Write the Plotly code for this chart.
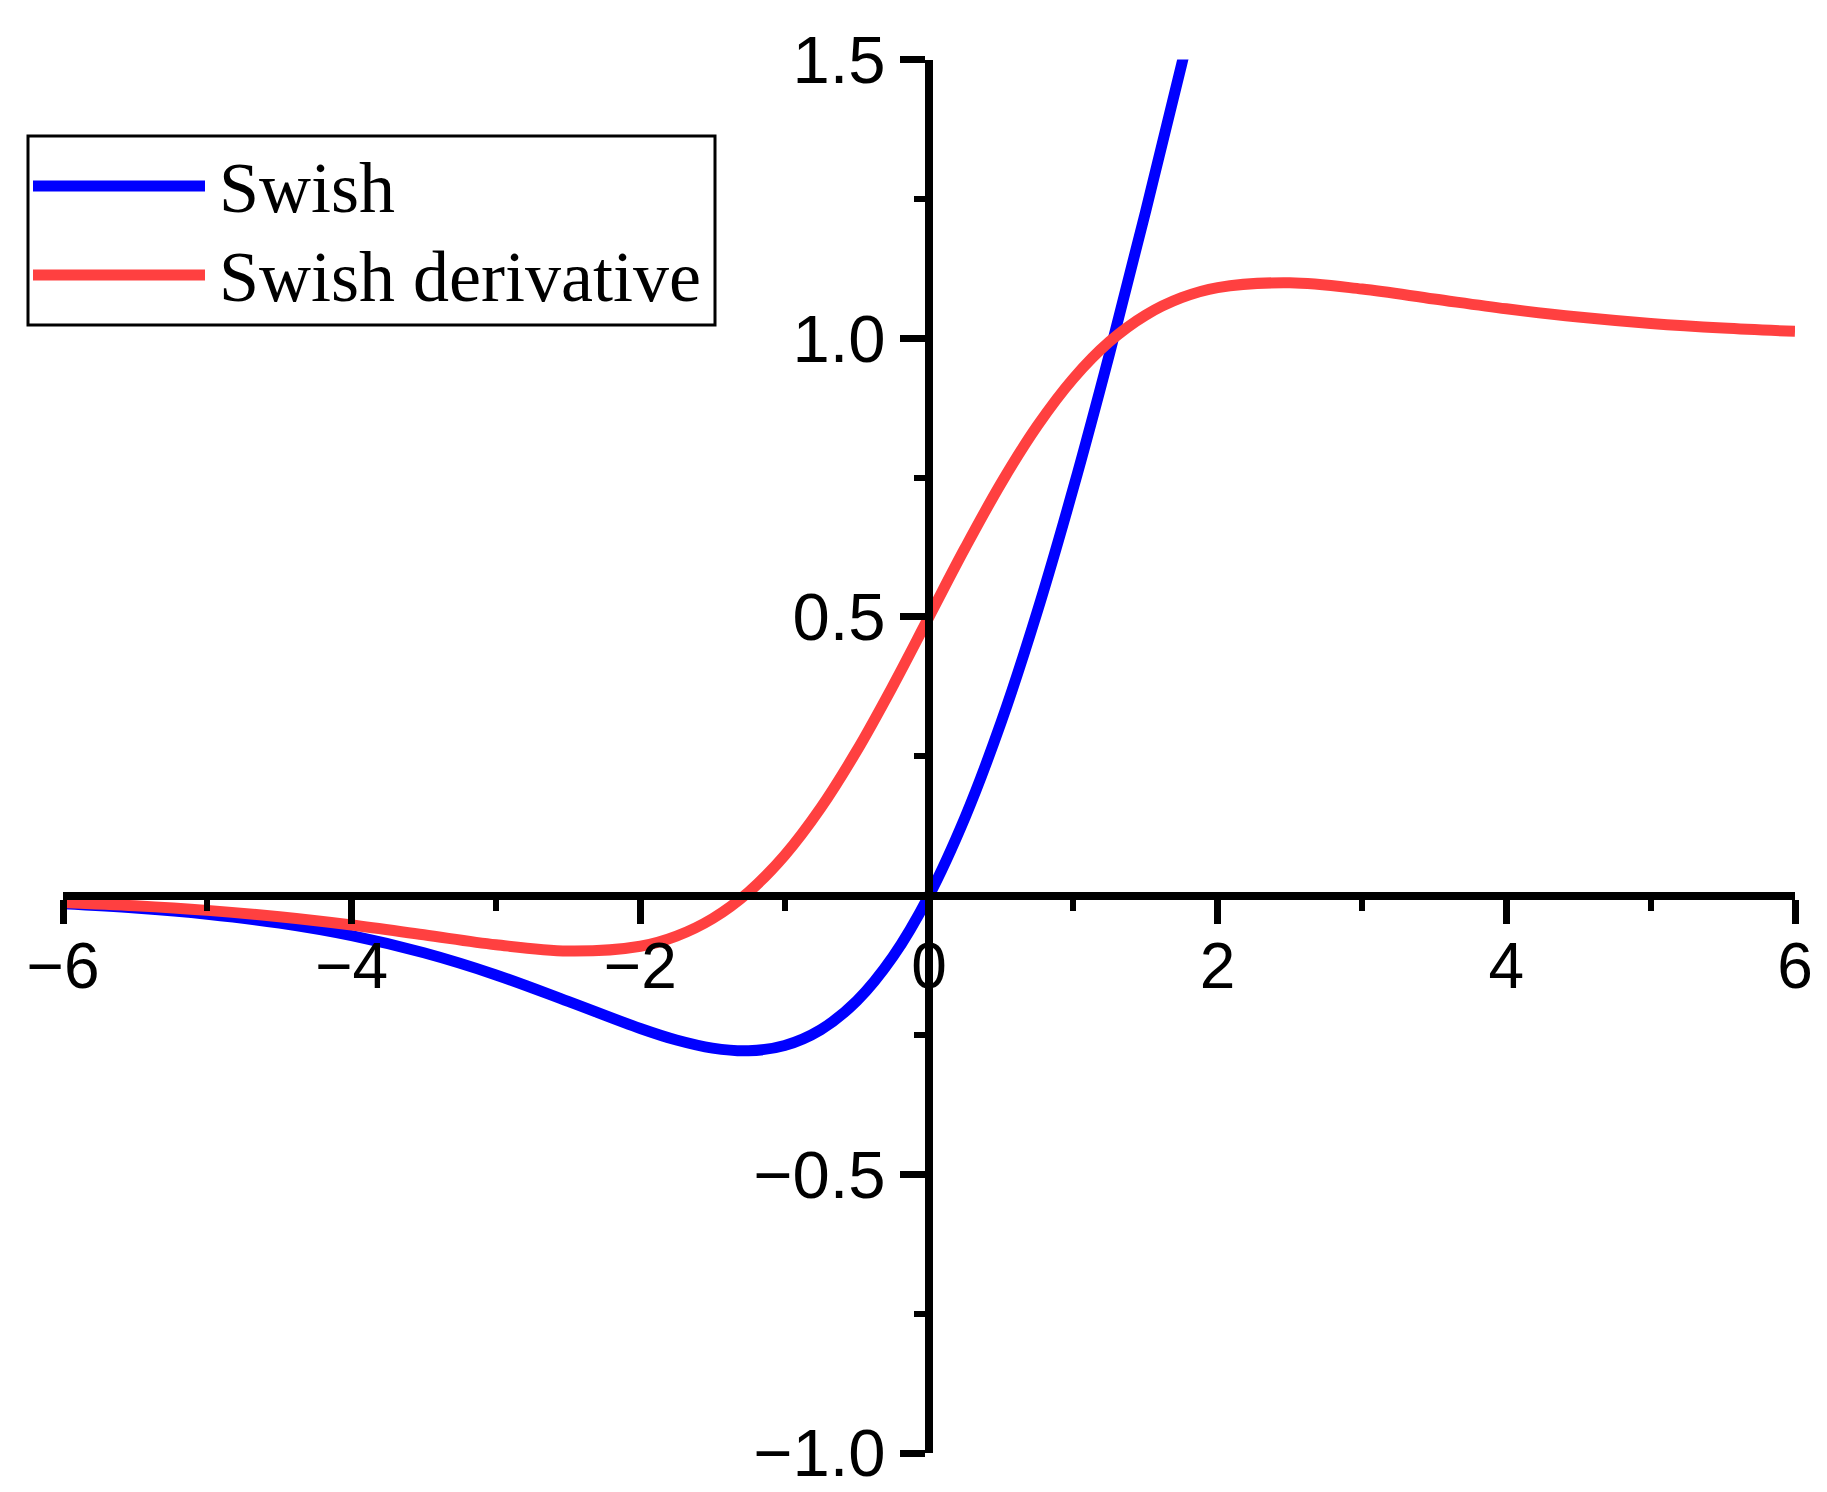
import plotly.graph_objects as go

# Values
x_swish = [-6, -5.5, -5, -4.5, -4, -3.5, -3, -2.5, -2, -1.75, -1.5, -1.25, -1, -0.75,
           -0.5, -0.25, 0, 0.25, 0.5, 0.75, 1, 1.25, 1.5, 1.75, 2]
y_swish = [-0.0148, -0.0224, -0.0335, -0.0494, -0.0719, -0.1026, -0.1423, -0.1897,
           -0.2384, -0.2591, -0.2736, -0.2784, -0.2689, -0.2406, -0.1888, -0.1095,
           0.0, 0.1405, 0.3112, 0.5094, 0.7311, 0.9716, 1.2264, 1.4909, 1.7616]

x_deriv = [-6, -5.5, -5, -4.5, -4, -3.5, -3, -2.5, -2, -1.75, -1.5, -1.25, -1, -0.75,
           -0.5, -0.25, 0, 0.25, 0.5, 0.75, 1, 1.25, 1.5, 1.75, 2, 2.5, 3, 3.5, 4,
           4.5, 5, 5.5, 6]
y_deriv = [-0.0123, -0.0182, -0.0265, -0.0379, -0.0527, -0.0703, -0.0881, -0.0994,
           -0.0908, -0.0727, -0.0413, 0.0063, 0.0723, 0.1574, 0.2600, 0.3763, 0.5,
           0.6237, 0.7400, 0.8426, 0.9277, 0.9937, 1.0413, 1.0727, 1.0908, 1.0994,
           1.0881, 1.0703, 1.0527, 1.0379, 1.0265, 1.0182, 1.0123]

series_names = ["Swish", "Swish derivative"]
series_colors = ["#0000FF", "#FF4040"]

x_ticks = [-6, -4, -2, 0, 2, 4, 6]
x_labels = ["\u22126", "\u22124", "\u22122", "0", "2", "4", "6"]
x_minor = [-5, -3, -1, 1, 3, 5]
y_ticks = [-1.0, -0.5, 0.5, 1.0, 1.5]
y_labels = ["\u22121.0", "\u22120.5", "0.5", "1.0", "1.5"]
y_minor = [-0.75, -0.25, 0.25, 0.75, 1.25]

X_RANGE = [-6, 6]
Y_RANGE = [-1.0, 1.5]

W, H = 1827, 1492
PLOT_L, PLOT_R, PLOT_T, PLOT_B = 63, 1795, 59.5, 1453
x_dom = [PLOT_L / W, PLOT_R / W]
y_dom = [(H - PLOT_B) / H, (H - PLOT_T) / H]

def frac(v, rng):
    return (v - rng[0]) / (rng[1] - rng[0])

xaxis_pos = y_dom[0] + frac(0, Y_RANGE) * (y_dom[1] - y_dom[0])
yaxis_pos = x_dom[0] + frac(0, X_RANGE) * (x_dom[1] - x_dom[0])

LINE_W = 11

fig = go.Figure()
fig.add_trace(go.Scatter(x=x_swish, y=y_swish, mode="lines", name=series_names[0],
                         showlegend=False,
                         line=dict(color=series_colors[0], width=LINE_W, shape="spline")))
fig.add_trace(go.Scatter(x=x_deriv, y=y_deriv, mode="lines", name=series_names[1],
                         showlegend=False,
                         line=dict(color=series_colors[1], width=LINE_W, shape="spline")))

# Legend box (drawn in pixel-derived paper coordinates)
LEG_L, LEG_R, LEG_T, LEG_B = 28, 715, 136, 325
ROW_Y = [186, 275]
SAMPLE_X0, SAMPLE_X1, TEXT_X = 33, 205, 217

def px(xp):
    return xp / W

def py(yp):
    return 1 - yp / H

shapes = [dict(type="rect", xref="paper", yref="paper",
               x0=px(LEG_L), x1=px(LEG_R), y0=py(LEG_B), y1=py(LEG_T),
               line=dict(color="black", width=3), fillcolor="white", layer="above")]
annotations = []
for name, color, ry in zip(series_names, series_colors, ROW_Y):
    shapes.append(dict(type="line", xref="paper", yref="paper",
                       x0=px(SAMPLE_X0), x1=px(SAMPLE_X1), y0=py(ry), y1=py(ry),
                       line=dict(color=color, width=LINE_W), layer="above"))
    annotations.append(dict(text=name, xref="paper", yref="paper",
                            x=px(TEXT_X), y=py(ry + 2), xanchor="left", yanchor="middle",
                            showarrow=False,
                            font=dict(family="Liberation Serif, Times New Roman",
                                      size=72, color="black")))

x_tick_font = dict(family="Liberation Sans, Arial", size=64, color="black")
y_tick_font = dict(family="Liberation Sans, Arial", size=67, color="black")

fig.update_layout(
    width=W, height=H,
    margin=dict(l=0, r=0, t=0, b=0, autoexpand=False),
    paper_bgcolor="white", plot_bgcolor="white",
    showlegend=False,
    shapes=shapes, annotations=annotations,
    xaxis=dict(
        domain=x_dom, range=X_RANGE, anchor="free", position=xaxis_pos,
        automargin=False,
        showline=True, linecolor="black", linewidth=8,
        showgrid=False, zeroline=False,
        ticks="outside", ticklen=24, tickwidth=7, tickcolor="black",
        tickvals=x_ticks, ticktext=x_labels, tickfont=x_tick_font,
        ticklabelstandoff=-12,
        minor=dict(tickvals=x_minor, ticks="outside", ticklen=11,
                   tickwidth=6, tickcolor="black", showgrid=False),
    ),
    yaxis=dict(
        domain=y_dom, range=Y_RANGE, anchor="free", position=yaxis_pos,
        automargin=False,
        showline=True, linecolor="black", linewidth=8,
        showgrid=False, zeroline=False,
        ticks="outside", ticklen=25, tickwidth=7, tickcolor="black",
        tickvals=y_ticks, ticktext=y_labels, tickfont=y_tick_font,
        ticklabelstandoff=1,
        minor=dict(tickvals=y_minor, ticks="outside", ticklen=11,
                   tickwidth=6, tickcolor="black", showgrid=False),
    ),
)

fig.write_html("out.html",
               config={"displayModeBar": False},
               post_script="document.body.style.margin='0px';document.body.style.padding='0px';")
